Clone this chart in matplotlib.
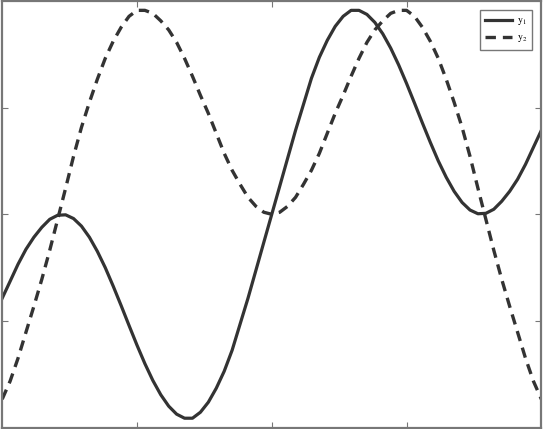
import matplotlib
matplotlib.use("Agg")
import matplotlib.pyplot as plt
import numpy as np

y1 = [-0.787, -0.628, -0.468, -0.328, -0.215, -0.122, -0.047, -0.009, -0.005,
      -0.040, -0.111, -0.215, -0.347, -0.500, -0.673, -0.855, -1.042, -1.226,
      -1.400, -1.557, -1.691, -1.798, -1.873, -1.911, -1.911, -1.855, -1.761,
      -1.630, -1.471, -1.274, -1.030, -0.787, -0.525, -0.262,
      0.0,
      0.262, 0.525, 0.787, 1.030, 1.274, 1.471, 1.630, 1.761, 1.855, 1.911,
      1.911, 1.873, 1.798, 1.691, 1.557, 1.400, 1.226, 1.042, 0.855, 0.673,
      0.500, 0.347, 0.215, 0.111, 0.040, 0.005, 0.009, 0.047, 0.122, 0.215,
      0.328, 0.468, 0.628, 0.787]

y2 = [-1.733, -1.564, -1.349, -1.105, -0.862, -0.609, -0.337, -0.047, 0.244,
      0.543, 0.815, 1.049, 1.265, 1.461, 1.621, 1.752, 1.855, 1.911, 1.911,
      1.883, 1.813, 1.728, 1.611, 1.461, 1.293, 1.115, 0.946, 0.759, 0.571,
      0.412, 0.281, 0.159, 0.075, 0.019,
      0.0,
      0.019, 0.075, 0.159, 0.281, 0.412, 0.571, 0.759, 0.946, 1.115, 1.293,
      1.461, 1.611, 1.728, 1.813, 1.883, 1.911, 1.911, 1.855, 1.752, 1.621,
      1.461, 1.265, 1.049, 0.815, 0.543, 0.244, -0.047, -0.337, -0.609, -0.862,
      -1.105, -1.349, -1.564, -1.733]

x = np.linspace(0, 4, len(y1))

xticks = [1, 2, 3]
yticks = [-1, 0, 1]
labels = [r"$\mathrm{y}_1$", r"$\mathrm{y}_2$"]

plt.rcParams["lines.scale_dashes"] = False
plt.rcParams["mathtext.fontset"] = "stix"

fig = plt.figure(figsize=(5.43, 4.29), dpi=100)
ax = fig.add_axes([0.004, 0.003, 0.993, 0.995])

col = "#333333"
ax.plot(x, y1, color=col, lw=2.3, solid_joinstyle="round", label=labels[0])
ax.plot(x, y2, color=col, lw=2.4, dashes=(7.5, 5.0), dash_joinstyle="round",
        label=labels[1])

ax.set_xlim(0, 4)
ax.set_ylim(-2, 2)
ax.set_xticks(xticks)
ax.set_yticks(yticks)
ax.tick_params(direction="in", length=4, width=0.8, color="#777777",
               top=True, right=True, labelbottom=False, labelleft=False)
for s in ax.spines.values():
    s.set_color("#777777")
    s.set_linewidth(1.6)

leg = ax.legend(loc="upper right", fontsize=7, handlelength=2.7,
                borderaxespad=0.95, fancybox=False, framealpha=1,
                edgecolor="#777777", borderpad=0.55, labelspacing=0.5,
                handletextpad=0.5)
leg.get_frame().set_linewidth(1.0)

fig.savefig("out.png", dpi=100)
